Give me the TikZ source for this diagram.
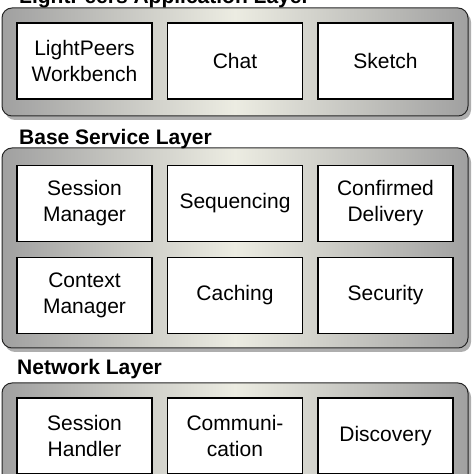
\documentclass[tikz,border=0pt]{standalone}
\usepackage{fontspec}
\setmainfont{Liberation Sans}
\usetikzlibrary{shadows}

\definecolor{layeredge}{RGB}{160,160,160}
\definecolor{layermid}{RGB}{236,236,226}

\tikzset{
  layer/.style={draw=black!85, line width=1pt, rounded corners=10pt,
    left color=layeredge, right color=layeredge, middle color=layermid,
    drop shadow={shadow xshift=3pt, shadow yshift=-4pt, fill=black!45, opacity=0.7}},
  unit/.style={draw, line width=1.8pt, fill=white, minimum width=135pt,
    minimum height=76pt, align=center, inner sep=0pt,
    font=\fontsize{21}{26}\selectfont},
  layer title/.style={anchor=base west, inner sep=0pt,
    font=\fontsize{21}{25}\selectfont\bfseries}
}

\begin{document}
\begin{tikzpicture}[x=1pt, y=1pt]

\useasboundingbox (0,0) rectangle (474,474);
\clip (0,0) rectangle (474,474);

% layer panels
\draw [layer] (2,358) rectangle (468,466);
\draw [layer] (2,126) rectangle (468,326);
\draw [layer] (2,-20) rectangle (468,91);

% layer titles
\node [layer title] (app-title) at (19,470) {LightPeers Application Layer};
\node [layer title] (base-title) at (19,329) {Base Service Layer};
\node [layer title] (net-title) at (17,99) {Network Layer};

% application layer
\foreach \t [count=\i] in {{LightPeers\\Workbench}, Chat, Sketch}
  \node [unit] (app-\i) at (84.5+150.5*\i-150.5, 413) {\t};

% base service layer
\foreach \t [count=\i] in {{Session\\Manager}, Sequencing, {Confirmed\\Delivery}}
  \node [unit] (base-\i) at (84.5+150.5*\i-150.5, 270.5) {\t};

\foreach \t [count=\i from 4] in {{Context\\Manager}, Caching, Security}
  \node [unit] (base-\i) at (84.5+150.5*\i-602, 178.5) {\t};

% network layer
\foreach \t [count=\i] in {{Session\\Handler}, {Communi-\\cation}, Discovery}
  \node [unit] (net-\i) at (84.5+150.5*\i-150.5, 38) {\t};

\end{tikzpicture}
\end{document}
